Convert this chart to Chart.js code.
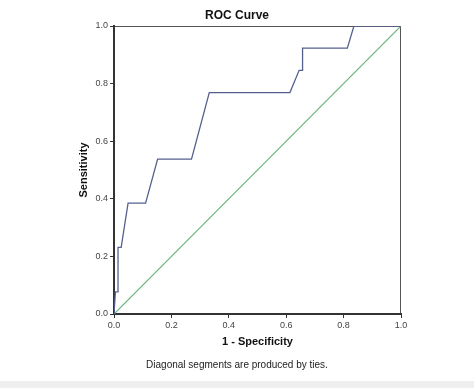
<!DOCTYPE html>
<html>
<head>
<meta charset="utf-8">
<script src="https://cdn.jsdelivr.net/npm/chart.js@4"></script>
<style>
  html, body { margin: 0; padding: 0; background: #fff; }
  #wrap { width: 474px; height: 388px; position: relative; }
</style>
</head>
<body>
<div id="wrap"><canvas id="roc-chart" width="474" height="388"></canvas></div>
<script>
// ROC curve
const fpr = [0, 0.005, 0.014, 0.014, 0.025, 0.049, 0.11, 0.152, 0.27, 0.332, 0.613, 0.645, 0.657, 0.657, 0.813, 0.836, 1]
const tpr = [0, 0.077, 0.077, 0.231, 0.231, 0.385, 0.385, 0.538, 0.538, 0.769, 0.769, 0.846, 0.846, 0.923, 0.923, 1, 1]
const ref_x = [0, 1]
const ref_y = [0, 1]
const tick_vals = [0, 0.2, 0.4, 0.6, 0.8, 1]

const chart_title = 'ROC Curve'
const foot_note = 'Diagonal segments are produced by ties.'

const font_name = '"Liberation Sans", Arial, sans-serif'

function to_points(xs, ys) {
    return xs.map((x, i) => ({ x: x, y: ys[i] }))
}

// title, footnote, frame and bottom band
const extras = {
    id: 'extras',
    beforeDraw(chart) {
        const c = chart.ctx
        c.save()
        c.fillStyle = '#ffffff'
        c.fillRect(0, 0, chart.width, chart.height)
        c.fillStyle = '#efefef'
        c.fillRect(0, 381, chart.width, chart.height - 381)
        const a = chart.chartArea
        c.strokeStyle = '#555'
        c.lineWidth = 1
        c.beginPath()
        c.moveTo(a.left, a.top + 0.5)
        c.lineTo(a.right - 0.5, a.top + 0.5)
        c.lineTo(a.right - 0.5, a.bottom)
        c.stroke()
        c.restore()
    },
    afterDraw(chart) {
        const c = chart.ctx
        c.save()
        c.textAlign = 'center'
        c.textBaseline = 'middle'
        c.fillStyle = '#111'
        c.font = 'bold 12px ' + font_name
        c.fillText(chart_title, chart.width / 2, 16)
        c.fillStyle = '#222'
        c.font = '10px ' + font_name
        c.fillText(foot_note, chart.width / 2, 365)
        c.restore()
    }
}

let ctx = document.getElementById('roc-chart')

let my_chart = new Chart(ctx, {
    type: 'scatter',
    data: {
        datasets: [{
            label: 'ROC',
            data: to_points(fpr, tpr),
            showLine: true,
            borderColor: '#55608f',
            borderWidth: 1.3,
            pointRadius: 0,
            tension: 0
        },
        {
            label: 'Reference',
            data: to_points(ref_x, ref_y),
            showLine: true,
            borderColor: '#68b47a',
            borderWidth: 1.2,
            pointRadius: 0
        }]
    },
    options: {
        responsive: false,
        animation: false,
        layout: { padding: { left: 0, right: 73, top: 26, bottom: 34 } },
        plugins: {
            legend: { display: false },
            tooltip: { enabled: false }
        },
        scales: {
            x: {
                type: 'linear',
                min: 0,
                max: 1,
                afterFit: s => { s.height = 40 },
                afterBuildTicks: s => { s.ticks = tick_vals.map(v => ({ value: v })) },
                ticks: {
                    color: '#444',
                    font: { family: font_name, size: 9 },
                    padding: 2,
                    maxRotation: 0,
                    callback: v => v.toFixed(1)
                },
                grid: { drawOnChartArea: false, color: '#333', tickLength: 4 },
                border: { color: '#333', width: 2 },
                title: {
                    display: true,
                    text: '1 - Specificity',
                    color: '#111',
                    font: { family: font_name, size: 11, weight: 'bold' },
                    padding: { top: 0, bottom: 5 }
                }
            },
            y: {
                type: 'linear',
                min: 0,
                max: 1,
                afterFit: s => { s.width = 114 },
                afterBuildTicks: s => { s.ticks = tick_vals.map(v => ({ value: v })) },
                ticks: {
                    color: '#444',
                    font: { family: font_name, size: 9 },
                    padding: 2,
                    callback: v => v.toFixed(1)
                },
                grid: { drawOnChartArea: false, color: '#333', tickLength: 4 },
                border: { color: '#333', width: 2 },
                title: {
                    display: true,
                    text: 'Sensitivity',
                    color: '#111',
                    font: { family: font_name, size: 11, weight: 'bold' },
                    padding: { top: 77, bottom: 0 }
                }
            }
        }
    },
    plugins: [extras]
})
</script>
</body>
</html>
